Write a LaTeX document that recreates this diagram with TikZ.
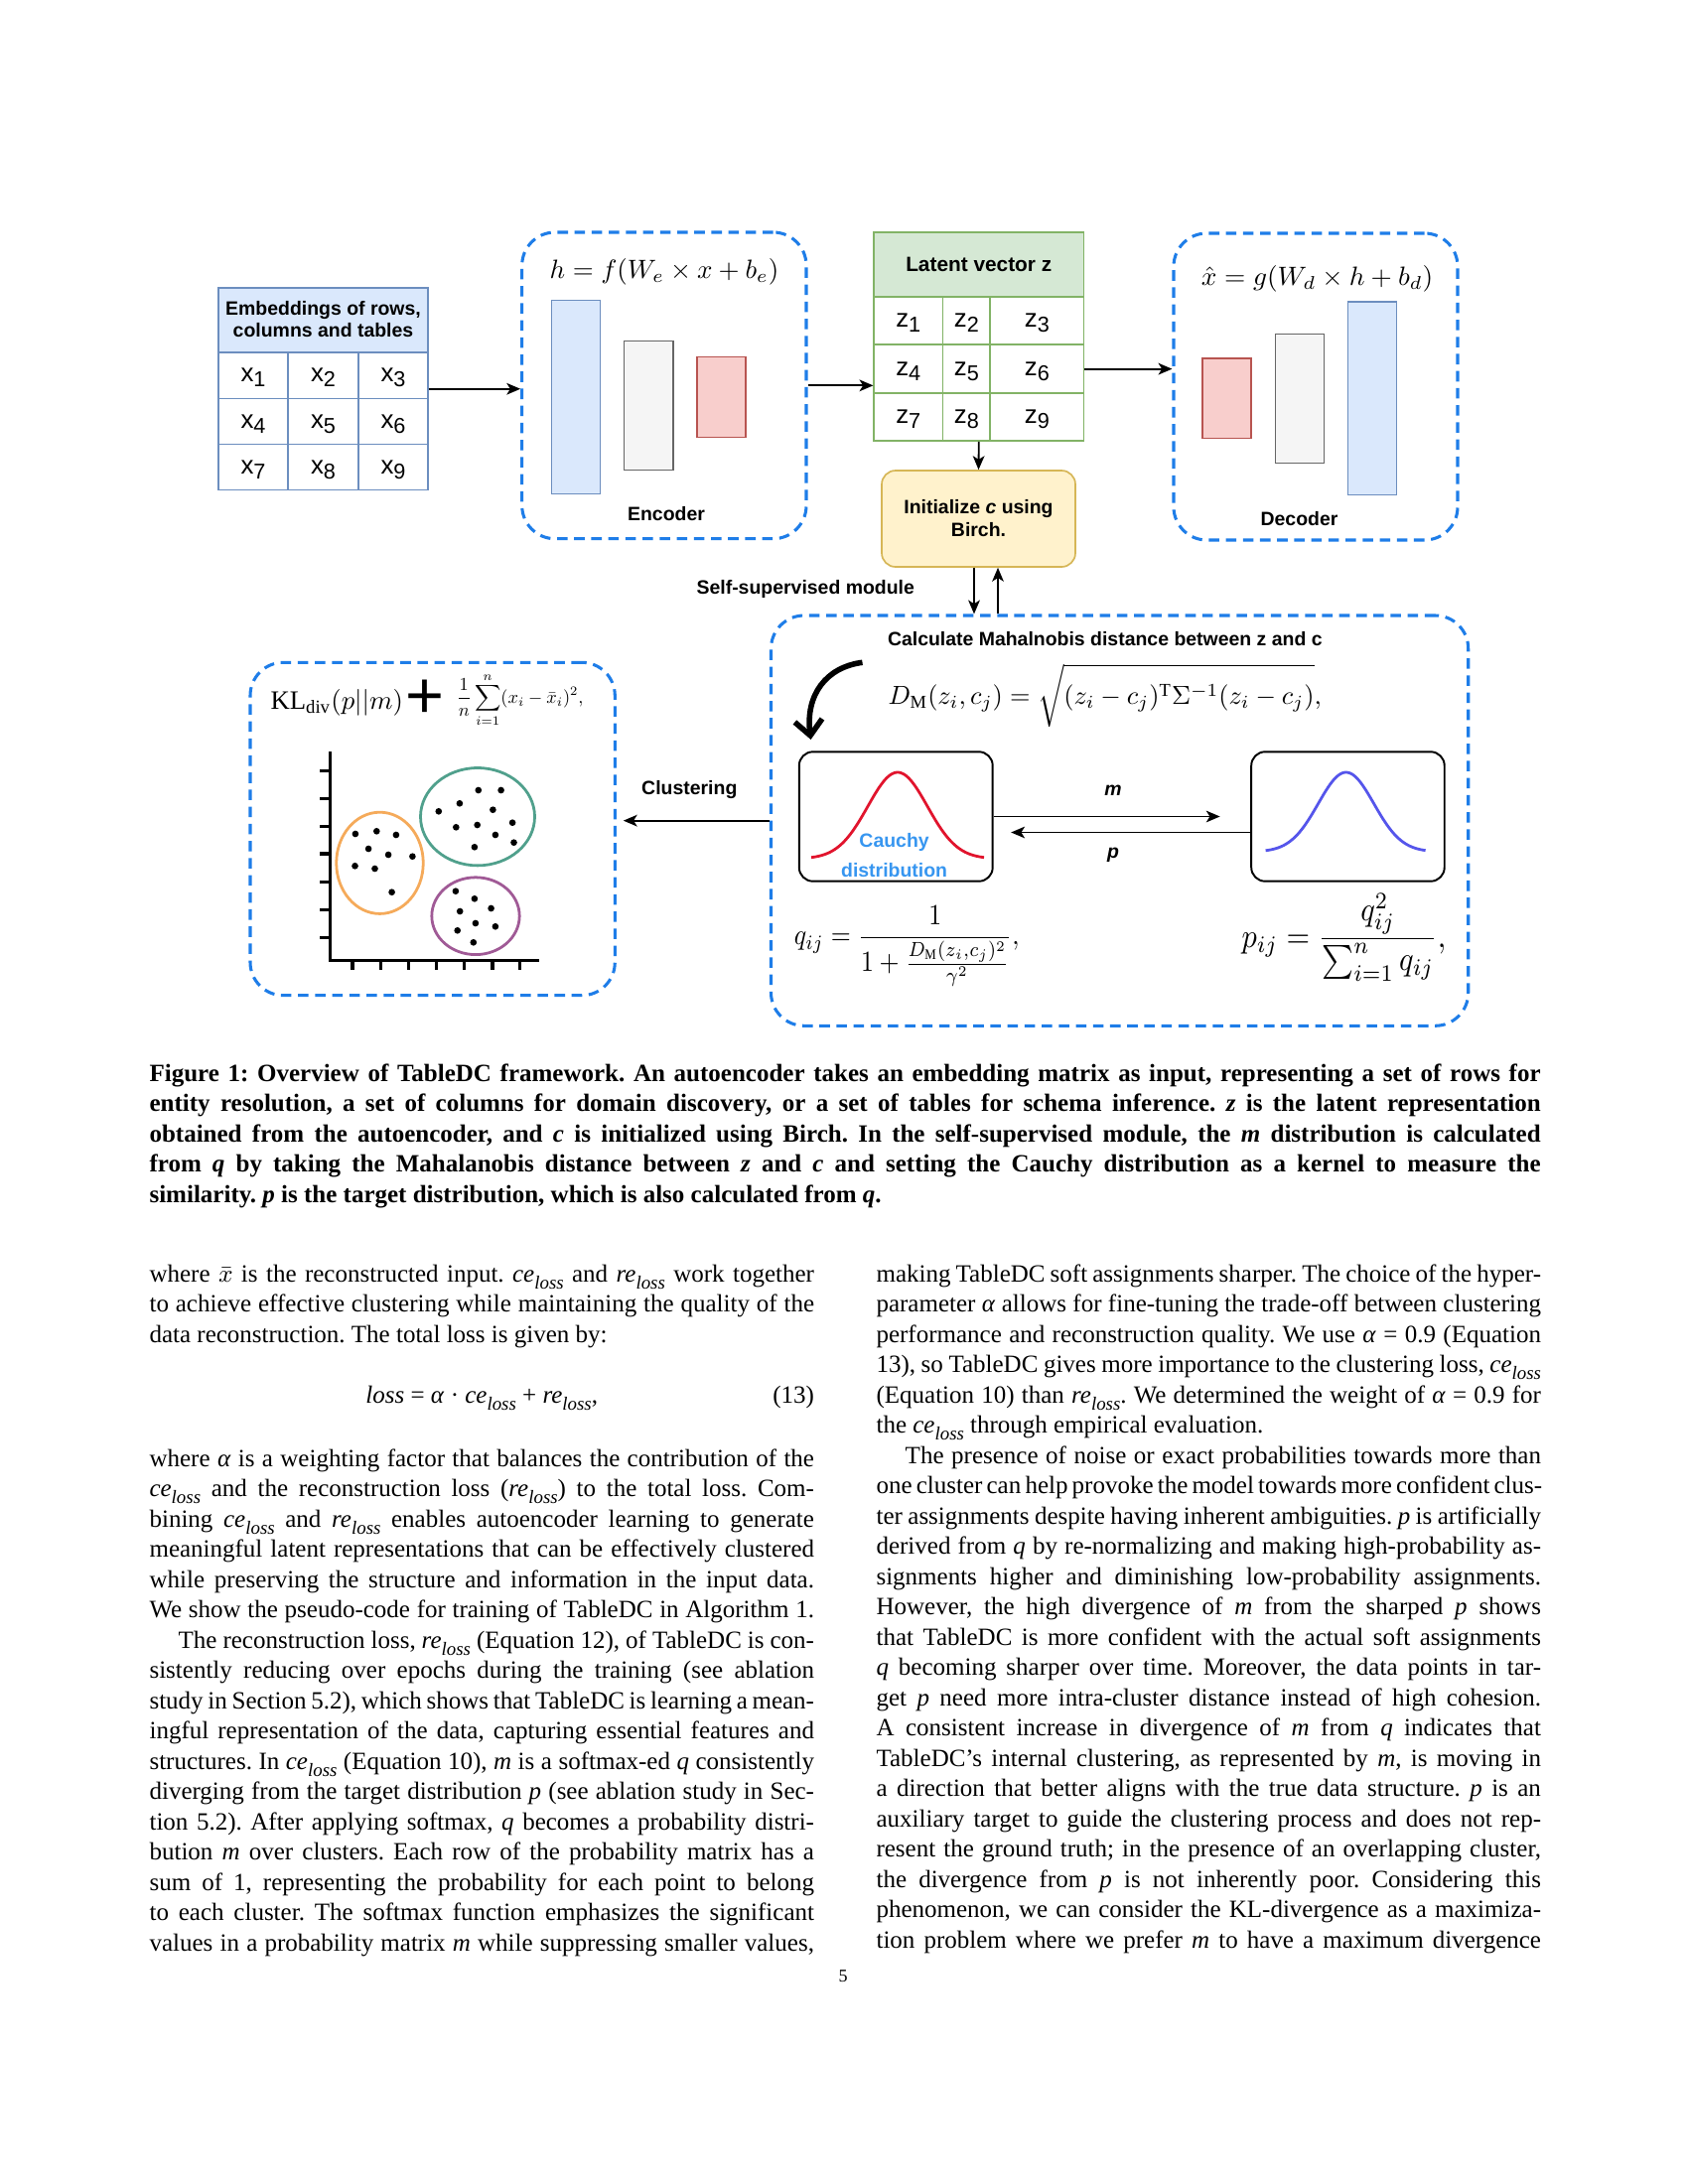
\documentclass[tikz,border=0pt]{standalone}
\usepackage{amsmath}
\usepackage{fontspec}
\setmainfont{Liberation Serif}
\setsansfont{Liberation Sans}
\usepackage{graphicx}
\usetikzlibrary{arrows.meta,calc,fit}

\definecolor{dblue}{RGB}{30,125,232}
\definecolor{fillblue}{HTML}{DAE8FC}
\definecolor{strokeblue}{HTML}{6C8EBF}
\definecolor{fillgreen}{HTML}{D5E8D4}
\definecolor{strokegreen}{HTML}{82B366}
\definecolor{fillyellow}{HTML}{FFF2CC}
\definecolor{strokeyellow}{HTML}{D6B656}
\definecolor{fillred}{HTML}{F8CECC}
\definecolor{strokered}{HTML}{B85450}
\definecolor{fillgray}{HTML}{F5F5F5}
\definecolor{strokegray}{HTML}{666666}
\definecolor{cauchyblue}{RGB}{55,150,240}
\definecolor{curvered}{RGB}{225,20,45}
\definecolor{curveblue}{RGB}{85,85,235}
\definecolor{corange}{RGB}{245,170,90}
\definecolor{cgreen}{RGB}{80,160,140}
\definecolor{cpurple}{RGB}{160,90,150}

\newcommand\JL[1]{\hbox to \hsize{#1}}
\newcommand\LL[1]{\hbox{#1}}
\newcommand\lsub{\raisebox{-0.28em}{\fontsize{6.8}{7}\selectfont\itshape loss}}
\newcommand\celoss{\textit{ce}\lsub}
\newcommand\reloss{\textit{re}\lsub}
\newcommand\xsub[2]{#1\raisebox{-1.8pt}{\fontsize{7.8}{8}\selectfont #2}}
\newcommand\bodyfont{\fontsize{9}{10.98}\selectfont\frenchspacing\lineskiplimit=-100pt\relax}
\newcommand\lblfont{\sffamily\bfseries\fontsize{7}{8.4}\selectfont}

\begin{document}
\begin{tikzpicture}[x=0.36pt,y=-0.36pt,
  dashbox/.style={draw=dblue, line width=1.1pt, dash pattern=on 3.8pt off 2.4pt, rounded corners=12pt, inner sep=0pt},
  arr/.style={-{Stealth[length=5pt,width=4.2pt,inset=1.3pt]}, line width=0.65pt},
  lbl/.style={font=\lblfont, inner sep=0pt},
  bar/.style={inner sep=0pt, line width=0.5pt},
  ecell/.style={draw=strokeblue, line width=0.6pt, fill=white, inner sep=0pt},
  lcell/.style={draw=strokegreen, line width=0.6pt, fill=white, inner sep=0pt},
  ctext/.style={anchor=base, inner sep=0pt, font=\sffamily\fontsize{9.3}{10}\selectfont},
  dbox/.style={draw=black, line width=0.7pt, rounded corners=5pt, inner sep=0pt},
  dot/.style={fill=black}
]
\fill[white] (0,0) rectangle (1700,2200);
\useasboundingbox (0,0) rectangle (1700,2200);

% ---------- Embeddings table ----------
\node[fit={(220,290) (431,493.5)}, inner sep=0pt] (emb) {};
\node[draw=strokeblue, fill=fillblue, line width=0.6pt, inner sep=0pt, fit={(220,290) (431,355)}] (embh) {};
\node[inner sep=0pt, align=center, font=\sffamily\bfseries\fontsize{7}{8.1}\selectfont] (embt) at (325.5,321.5) {Embeddings of rows,\\columns and tables};
\node[ecell, fit={(220,355) (290,401.5)}] (x1) {};
\node[ecell, fit={(290,355) (361,401.5)}] (x2) {};
\node[ecell, fit={(361,355) (431,401.5)}] (x3) {};
\node[ecell, fit={(220,401.5) (290,447.5)}] (x4) {};
\node[ecell, fit={(290,401.5) (361,447.5)}] (x5) {};
\node[ecell, fit={(361,401.5) (431,447.5)}] (x6) {};
\node[ecell, fit={(220,447.5) (290,493.5)}] (x7) {};
\node[ecell, fit={(290,447.5) (361,493.5)}] (x8) {};
\node[ecell, fit={(361,447.5) (431,493.5)}] (x9) {};
\foreach \c in {1,...,9} \node[ctext] (x\c t) at ($(x\c.center)+(0,6.5)$) {\xsub{x}{\c}};

% ---------- Encoder ----------
\node[dashbox, fit={(525.7,234) (812,542.7)}] (enc) {};
\node[bar, fill=fillblue, draw=strokeblue, fit={(555.6,302.7) (604.6,497.3)}] (eb1) {};
\node[bar, fill=fillgray, draw=strokegray, fit={(628.6,343.3) (678,473.3)}] (eb2) {};
\node[bar, fill=fillred, draw=strokered, fit={(702,359.3) (751,440.7)}] (eb3) {};
\node[inner sep=0pt] (encf) at (669,274) {\resizebox*{83pt}{9.6pt}{$h=f(W_e\times x+b_e)$}};
\node[lbl] (encl) at (671,517.7) {Encoder};

% ---------- Latent table ----------
\node[fit={(880,234) (1091.5,444.3)}, inner sep=0pt] (lat) {};
\node[draw=strokegreen, fill=fillgreen, line width=0.6pt, inner sep=0pt, fit={(880,234) (1091.5,299)}] (lath) {};
\node[inner sep=0pt, font=\sffamily\bfseries\fontsize{7.5}{9}\selectfont] (latt) at (985.75,266) {Latent vector z};
\node[lcell, fit={(880,299) (949.6,347.3)}] (z1) {};
\node[lcell, fit={(949.6,299) (997.3,347.3)}] (z2) {};
\node[lcell, fit={(997.3,299) (1091.5,347.3)}] (z3) {};
\node[lcell, fit={(880,347.3) (949.6,396)}] (z4) {};
\node[lcell, fit={(949.6,347.3) (997.3,396)}] (z5) {};
\node[lcell, fit={(997.3,347.3) (1091.5,396)}] (z6) {};
\node[lcell, fit={(880,396) (949.6,444.3)}] (z7) {};
\node[lcell, fit={(949.6,396) (997.3,444.3)}] (z8) {};
\node[lcell, fit={(997.3,396) (1091.5,444.3)}] (z9) {};
\foreach \c in {1,...,9} \node[ctext] (z\c t) at ($(z\c.center)+(0,6.5)$) {\xsub{z}{\c}};

% ---------- Decoder ----------
\node[dashbox, fit={(1182,235) (1468,544)}] (dec) {};
\node[bar, fill=fillred, draw=strokered, fit={(1211,361) (1260,441.7)}] (db1) {};
\node[bar, fill=fillgray, draw=strokegray, fit={(1284.4,336.7) (1333.4,466.7)}] (db2) {};
\node[bar, fill=fillblue, draw=strokeblue, fit={(1357.5,304) (1406.4,498.7)}] (db3) {};
\node[inner sep=0pt] (decf) at (1326.5,280.5) {\resizebox*{84pt}{9.6pt}{$\hat{x}=g(W_d\times h+b_d)$}};
\node[lbl] (decl) at (1308.5,522.7) {Decoder};

% ---------- Birch ----------
\node[draw=strokeyellow, fill=fillyellow, line width=0.6pt, rounded corners=5pt, inner sep=0pt, fit={(888,474) (1083,571)}] (birch) {};
\node[inner sep=0pt, align=center, font=\lblfont] (bircht) at (985.5,522) {Initialize \textit{c} using\\Birch.};

% ---------- Self-supervised module ----------
\node[dashbox, fit={(776.5,620) (1478.7,1033.3)}] (self) {};
\node[lbl, anchor=east] (selfl) at (921.5,593.5) {Self-supervised module};
\node[lbl] (mahal) at (1112.8,643.3) {Calculate Mahalnobis distance between z and c};
\node[inner sep=0pt] (dmf) at (1112.8,701) {\resizebox{157pt}{!}{$D_{\mathrm{M}}(z_i,c_j)=\sqrt{\vphantom{\Big(}(z_i-c_j)^{\mathrm{T}}\Sigma^{-1}(z_i-c_j)},$}};
\coordinate (ca1) at (868.5,667.3);
\coordinate (ca2) at (816.6,745);
\draw[line width=2pt, -{Straight Barb[length=5.5pt,width=10pt]}] (ca1) .. controls (832,672) and (811,700) .. (ca2);

\node[dbox, fit={(804.8,757.3) (999.7,887.7)}] (cbox) {};
\node[dbox, fit={(1260.2,757.3) (1454.7,887.7)}] (nbox) {};
\draw[curvered, line width=1pt] plot[domain=-87:87, samples=90, smooth] ({904+\x},{865-87*exp(-0.5*(\x/30)*(\x/30))});
\draw[curveblue, line width=1pt] plot[domain=-81:80, samples=90, smooth] ({1355.6+\x},{858-80*exp(-0.5*(\x/28)*(\x/28))});
\node[inner sep=0pt, align=center, text=cauchyblue, font=\sffamily\bfseries\fontsize{7}{11}\selectfont] (cauchy) at (900.6,861.4) {Cauchy\\distribution};

\draw[arr, shorten >=11pt] (cbox.east) -- (cbox.east -| nbox.west);
\coordinate (pa) at ($(nbox.west)+(0,16)$);
\draw[arr, shorten >=6.3pt] (pa) -- (pa -| cbox.east);
\node[lbl, font=\sffamily\bfseries\itshape\fontsize{7}{8.4}\selectfont] (ml) at (1121,796.7) {m};
\node[lbl, font=\sffamily\bfseries\itshape\fontsize{7}{8.4}\selectfont] (pl) at (1121,861.7) {p};

\node[inner sep=0pt] (qf) at (913.3,953) {\resizebox*{81.6pt}{28.8pt}{$q_{ij}=\dfrac{1}{1+\frac{D_{\mathrm{M}}(z_i,c_j)^2}{\gamma^2}},$}};
\node[inner sep=0pt] (pf) at (1353.4,944) {\resizebox*{74pt}{31.7pt}{$p_{ij}=\dfrac{q_{ij}^2}{\sum_{i=1}^{n}q_{ij}},$}};

% ---------- Clustering box ----------
\node[dashbox, fit={(252,667.3) (619.3,1002.7)}] (clu) {};
\node[anchor=base west, inner sep=0pt] (klf) at (272,714) {\resizebox{48pt}{!}{$\mathrm{KL}_{\mathrm{div}}(p||m)$}};
\node[inner sep=0pt, font=\sffamily\fontsize{24}{24}\selectfont] (plus) at (428,704) {+};
\node[inner sep=0pt] (frf) at (523.5,705) {\resizebox*{46pt}{19.4pt}{$\displaystyle\frac{1}{n}\sum_{i=1}^{n}(x_i-\bar{x}_i)^2,$}};
\node[lbl] (clul) at (694.3,795.7) {Clustering};

% axes
\draw[line width=1.1pt] (332.9,757.3) -- (332.9,967.3) -- (542.9,967.3);
\foreach \ty in {776.7,804.3,832.3,860,888.3,916.7,944.3} \draw[line width=1.1pt] (322,\ty) -- (332.9,\ty);
\foreach \tx in {355,383.6,411.4,439.6,467.5,496,523.9} \draw[line width=1.1pt] (\tx,967.3) -- (\tx,976.7);
% clusters
\draw[corange, line width=1pt] (382.5,869.3) ellipse [x radius=15.75pt, y radius=18.4pt];
\draw[cgreen, line width=1pt] (481,822.7) ellipse [x radius=20.7pt, y radius=17.7pt];
\draw[cpurple, line width=1pt] (479,922.7) ellipse [x radius=15.9pt, y radius=14pt];
\foreach \px/\py in {357.9/840,379.3/837.3,398.9/841,371.1/855,391.1/861,415.4/862.7,357.5/872.3,377.5/875,394.6/898.7,
  481.8/796,504.6/796,462.9/809.3,496.4/815.7,441.8/817.3,459.3/833.3,480.7/831,516.1/828.7,498.9/841,517.5/848.7,477.9/853.3,
  458.9/897.7,477.9/905.3,494.6/915,463.2/918,478.9/930,498.9/933.3,460.7/937.3,476.8/949.3}
  \fill[dot] (\px,\py) circle (1.2pt);

% ---------- connectors ----------
\draw[arr] (emb.east) -- (emb.east -| enc.west);
\draw[arr] (enc.east) -- (enc.east -| lat.west);
\draw[arr] (z6.east) -- (z6.east -| dec.west);
\draw[arr] (lat.south) -- (birch.north);
\coordinate (bd) at ($(birch.south)+(-4.5,0)$);
\coordinate (bu) at ($(birch.south)+(19.5,0)$);
\draw[arr] (bd) -- (bd |- self.north);
\draw[arr] (bu |- self.north) -- (bu);
\draw[arr, shorten >=2.5pt] (self.west) -- (self.west -| clu.east);

% ---------- Caption ----------
\node[anchor=base west, inner sep=0pt] (capt) at (150,1089) {\parbox[t]{504.4pt}{\bodyfont\bfseries
\JL{Figure 1: Overview of TableDC framework. An autoencoder takes an embedding matrix as input, representing a set of rows for}
\JL{entity resolution, a set of columns for domain discovery, or a set of tables for schema inference. \textit{z} is the latent representation}
\JL{obtained from the autoencoder, and \textit{c} is initialized using Birch. In the self-supervised module, the \textit{m} distribution is calculated}
\JL{from \textit{q} by taking the Mahalanobis distance between \textit{z} and \textit{c} and setting the Cauchy distribution as a kernel to measure the}
\LL{similarity. \textit{p} is the target distribution, which is also calculated from \textit{q}.}
}};

% ---------- Left column ----------
\node[anchor=base west, inner sep=0pt] (lc1) at (150,1291) {\parbox[t]{241pt}{\bodyfont
\JL{where $\bar{x}$ is the reconstructed input. \celoss{} and \reloss{} work together}
\JL{to achieve effective clustering while maintaining the quality of the}
\LL{data reconstruction. The total loss is given by:}
}};
\node[anchor=base west, inner sep=0pt] (eq13) at (150,1413) {\parbox[t]{241pt}{\bodyfont
\JL{\hfil\textit{loss} = \textit{α} · \celoss{} + \reloss,\hfil\llap{(13)}}
}};
\node[anchor=base west, inner sep=0pt] (lc2) at (150,1477) {\parbox[t]{241pt}{\bodyfont
\JL{where \textit{α} is a weighting factor that balances the contribution of the}
\JL{\celoss{} and the reconstruction loss (\reloss) to the total loss. Com-}
\JL{bining \celoss{} and \reloss{} enables autoencoder learning to generate}
\JL{meaningful latent representations that can be effectively clustered}
\JL{while preserving the structure and information in the input data.}
\JL{We show the pseudo-code for training of TableDC in Algorithm 1.}
\JL{\hspace*{10.5pt}The reconstruction loss, \reloss{} (Equation 12), of TableDC is con-}
\JL{sistently reducing over epochs during the training (see ablation}
\JL{study in Section 5.2), which shows that TableDC is learning a mean-}
\JL{ingful representation of the data, capturing essential features and}
\JL{structures. In \celoss{} (Equation 10), \textit{m} is a softmax-ed \textit{q} consistently}
\JL{diverging from the target distribution \textit{p} (see ablation study in Sec-}
\JL{tion 5.2). After applying softmax, \textit{q} becomes a probability distri-}
\JL{bution \textit{m} over clusters. Each row of the probability matrix has a}
\JL{sum of 1, representing the probability for each point to belong}
\JL{to each cluster. The softmax function emphasizes the significant}
\JL{values in a probability matrix \textit{m} while suppressing smaller values,}
}};

% ---------- Right column ----------
\node[anchor=base west, inner sep=0pt] (rc) at (882,1291) {\parbox[t]{241pt}{\bodyfont
\JL{making TableDC soft assignments sharper. The choice of the hyper-}
\JL{parameter \textit{α} allows for fine-tuning the trade-off between clustering}
\JL{performance and reconstruction quality. We use \textit{α} = 0.9 (Equation}
\JL{13), so TableDC gives more importance to the clustering loss, \celoss}
\JL{(Equation 10) than \reloss. We determined the weight of \textit{α} = 0.9 for}
\LL{the \celoss{} through empirical evaluation.}
\JL{\hspace*{10.5pt}The presence of noise or exact probabilities towards more than}
\JL{one cluster can help provoke the model towards more confident clus-}
\JL{ter assignments despite having inherent ambiguities. \textit{p} is artificially}
\JL{derived from \textit{q} by re-normalizing and making high-probability as-}
\JL{signments higher and diminishing low-probability assignments.}
\JL{However, the high divergence of \textit{m} from the sharped \textit{p} shows}
\JL{that TableDC is more confident with the actual soft assignments}
\JL{\textit{q} becoming sharper over time. Moreover, the data points in tar-}
\JL{get \textit{p} need more intra-cluster distance instead of high cohesion.}
\JL{A consistent increase in divergence of \textit{m} from \textit{q} indicates that}
\JL{TableDC’s internal clustering, as represented by \textit{m}, is moving in}
\JL{a direction that better aligns with the true data structure. \textit{p} is an}
\JL{auxiliary target to guide the clustering process and does not rep-}
\JL{resent the ground truth; in the presence of an overlapping cluster,}
\JL{the divergence from \textit{p} is not inherently poor. Considering this}
\JL{phenomenon, we can consider the KL-divergence as a maximiza-}
\JL{tion problem where we prefer \textit{m} to have a maximum divergence}
}};

\node[anchor=base, inner sep=0pt, font=\fontsize{6.5}{7}\selectfont] (pnum) at (849,1996) {5};
\end{tikzpicture}
\end{document}
